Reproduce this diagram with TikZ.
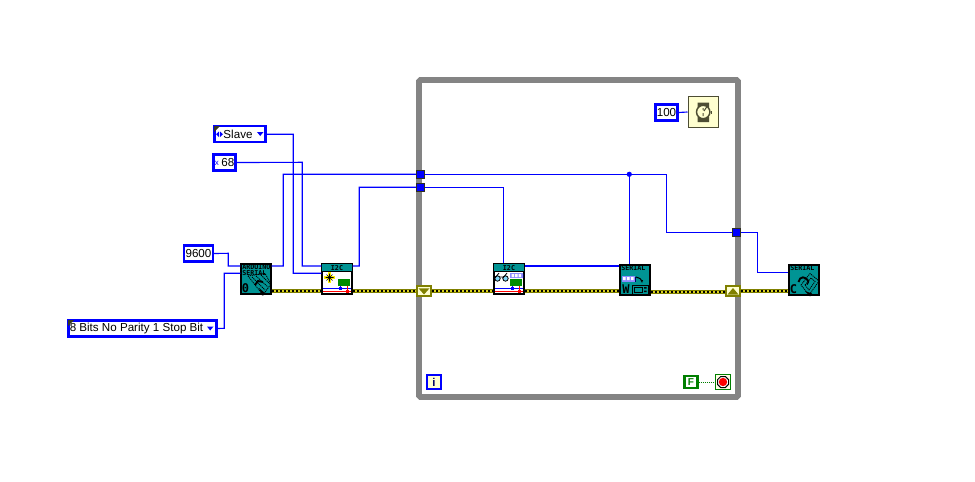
\documentclass[tikz,border=0pt]{standalone}
\usepackage{fontspec}
\setmainfont{Liberation Sans}
\newfontfamily\iconfont{DejaVu Sans Mono}
\usetikzlibrary{calc}
\definecolor{lvblue}{HTML}{0000FF}
\definecolor{lvgrey}{HTML}{848484}
\definecolor{lvteal}{HTML}{009494}
\definecolor{lvolive}{HTML}{808000}
\definecolor{lvyellow}{HTML}{FFFFD0}
\definecolor{lvgreen}{HTML}{007F00}
\definecolor{lvdark}{HTML}{4D4D33}
\tikzset{
  x=0.75pt,y=-0.75pt,
  numbox/.style={draw=lvblue,line width=1.7pt,fill=white,inner sep=0pt,font=\fontsize{8.7}{11}\selectfont,text=black},
  wire/.style={draw=lvblue,line width=0.85pt},
  bus/.style={draw=lvblue,line width=1.7pt},
  tunnel/.style={draw=lvdark!60!black,line width=0.75pt,fill=lvblue,minimum size=6pt,inner sep=0pt},
  icon/.style={draw=black,line width=1.1pt,inner sep=0pt,minimum size=22.5pt},
  srnode/.style={draw=lvolive,line width=1.7pt,fill=lvyellow,minimum width=10.2pt,minimum height=7pt,inner sep=0pt},
  ilabel/.style={inner sep=0pt,font=\iconfont\bfseries\fontsize{5}{5}\selectfont},
  ibig/.style={inner sep=0pt,font=\iconfont\bfseries\fontsize{9}{9}\selectfont},
}
\newcommand{\errwire}[2]{%
  \draw[lvolive,line width=3pt] (#1) -- (#2);
  \draw[yellow!85!black,line width=1.5pt] (#1) -- (#2);
  \draw[black,line width=1.5pt,dash pattern=on 1.5pt off 1.5pt] (#1) -- (#2);}
\begin{document}
\begin{tikzpicture}
\useasboundingbox (0,0) rectangle (975,482);
\fill[white] (0,0) rectangle (975,482);

% while loop frame
\draw[lvgrey,line width=4.2pt,rounded corners=1pt] (419,80) rectangle (738,397);

% constants and controls
\node[numbox,minimum width=38.2pt,minimum height=12pt] (slave) at (240,134.2) {\hspace*{2pt}Slave\hspace*{5pt}};
\fill[lvdark!70!black] (214,126) -- (220,126) -- (214,132) -- cycle;
\fill[lvblue] (216,134.2) -- (219,131.5) -- (219,137) -- cycle;
\fill[lvblue] (223,134.2) -- (220,131.5) -- (220,137) -- cycle;
\fill[lvblue] (257,132) -- (263.5,132) -- (260.2,136) -- cycle;

\node[numbox,minimum width=16.5pt,minimum height=12pt] (addr) at (224.5,162.5) {\hspace*{5pt}68};
\node[inner sep=0pt,text=lvblue,font=\fontsize{6}{6}\selectfont] (addrx) at (216.8,163) {x};

\node[numbox,minimum width=21.4pt,minimum height=12pt] (baud) at (198.5,253.5) {9600};

\node[numbox,minimum width=111pt,minimum height=12pt] (bits) at (142.5,328.5) {8 Bits No Parity 1 Stop Bit\hspace*{9pt}};
\fill[lvdark!70!black] (68,320) -- (74,320) -- (68,326) -- cycle;
\fill[lvblue] (207,326.5) -- (213.5,326.5) -- (210.2,330.5) -- cycle;

\node[numbox,minimum width=16.5pt,minimum height=12pt] (delay) at (666.5,112.5) {100};
\node[draw=lvdark,line width=.75pt,fill=lvyellow,minimum size=22.8pt,inner sep=0pt] (wait) at (703.2,112) {};
\fill[lvdark] (697.5,102.5) rectangle (709,107.5) (697.5,117) rectangle (709,122);
\draw[lvdark,line width=1.1pt,fill=lvyellow] (703.2,112) circle (6.7);
\fill[lvdark] (710.5,110.5) rectangle (712,113.5);
\draw[lvdark,line width=.75pt] (703.2,108) -- (703.2,110) (703.2,113)--(703.2,116) (707,106.5)--(704,111);

% function icons
\node[icon,fill=lvteal] (ard) at (256,279) {};
\node[icon,fill=white] (init) at (337,279) {};
\node[icon,fill=white] (read) at (509,279) {};
\node[icon,fill=lvteal] (wr) at (635,280) {};
\node[icon,fill=lvteal] (cl) at (804,280) {};

% shift registers and tunnels
\node[tunnel] (tun1) at (420.5,174.3) {};
\node[tunnel] (tun2) at (420.5,187.3) {};
\node[tunnel] (tun3) at (736.5,232.3) {};

% wires
\draw[wire] (slave.east) -- (293.3,134.3) -- (293.3,273.3) -- ($(init.north west)+(0,10)$);
\draw[wire] (addr.east) -- (302.3,162.3) -- (302.3,266) -- ($(init.north west)+(0,2.7)$);
\draw[wire] (baud.east) -- (228.3,253.3) -- (228.3,266) -- ($(ard.north west)+(0,2.7)$);
\draw[wire] (bits.east) -- (224.3,328.3) -- (224.3,273.3) -- ($(ard.north west)+(0,10)$);
\draw[wire] ($(ard.north east)+(0,2.7)$) -- (283.3,266) -- (283.3,174.3) -- (tun1.west);
\draw[wire] ($(init.north east)+(0,2.7)$) -- (359.3,266) -- (359.3,187.3) -- (tun2.west);
\draw[wire] (tun1.east) -- (666.7,174.3) -- (666.7,232.3) -- (tun3.west);
\draw[wire] (tun2.east) -- (503.3,187.3) -- (read.north -| 503.3,0);
\coordinate (jct) at (629.3,174.3);
\fill[lvblue] (jct) circle (2.6);
\draw[wire] (jct) -- (wr.north -| jct);
\draw[bus] ($(read.north east)+(0,2.4)$) -- ($(wr.north west)+(0,1.4)$);
\draw[wire] (tun3.east) -- (757.3,232.3) -- (757.3,272.3) -- (cl.west |- 0,272.3);
\draw[wire] (delay.east) -- (wait.west);

% error cluster wires
\coordinate (ardR) at (271.7,291.3);
\coordinate (initL) at (321.3,291.3);
\coordinate (initR) at (352.7,291.3);
\coordinate (srlL) at (416,291.3);
\coordinate (srlR) at (432,291.3);
\coordinate (readL) at (493.3,291.3);
\coordinate (readR) at (524.7,291.3);
\coordinate (wrL) at (619.3,291.3);
\coordinate (wrR) at (650.7,292.3);
\coordinate (srrL) at (725.3,292.3);
\coordinate (srrR) at (740.7,291);
\coordinate (clL) at (788.3,291);
\errwire{ardR}{initL}
\errwire{initR}{srlL}
\errwire{srlR}{readL}
\errwire{readR}{wrL}
\errwire{wrR}{srrL}
\errwire{srrR}{clL}

\node[srnode] (srl) at (424,291) {};
\fill[lvolive] (418.5,288.3) -- (429.5,288.3) -- (424,294.5) -- cycle;
\node[srnode] (srr) at (733,291) {};
\fill[lvolive] (727.5,294.5) -- (738.5,294.5) -- (733,288) -- cycle;

% Arduino serial open icon
\node[ilabel,anchor=north west] (ard1) at (242,264.5) {ARDUINO};
\node[ilabel,anchor=north west] (ard2) at (242,270) {SERIAL};
\node[ibig] (ard0) at (245.5,288.5) {0};
\draw[black,line width=.6pt,dash pattern=on .9pt off .6pt] (248,276) -- (265,273.5) -- (271,284) -- (263,295) -- cycle;
\draw[black,line width=.6pt,dash pattern=on .9pt off .6pt] (252,277) -- (265,290) (256,276) -- (268,287) (261,275) -- (270,284);
\draw[black,line width=1.4pt] (255,285) -- (258,281) -- (263,282);
\fill[black] (259,288) -- (265,293) -- (262,295.5) -- cycle;

% I2C open icon
\fill[lvteal] (321.8,263.8) rectangle (352.2,271);
\draw[black,line width=.75pt] (321.8,271.5) -- (352.2,271.5);
\node[ilabel] (lab1) at (337,267.6) {I2C};
\fill[yellow] (328,272) rectangle (330.5,283);
\fill[yellow] (324,276) rectangle (335,279);
\draw[black,line width=.5pt] (329.5,273.5) -- (329.5,281.5) (325.5,277.5) -- (333.5,277.5) (326.5,274.5) -- (332.5,280.5) (326.5,280.5) -- (332.5,274.5);
\fill[green!55!black] (338,278.5) rectangle (350,285.5);
\draw[lvblue,line width=.75pt] (323,288.5) -- (351,288.5);
\draw[red,line width=.75pt] (323,291.5) -- (351,291.5);
\draw[red,line width=.75pt] (347,285.5) -- (347,291.5);
\draw[lvblue,line width=.75pt] (340,285.5) -- (340,288.5);
\fill[lvblue] (338.5,287) rectangle (341.5,290);
\fill[red] (345.5,290) rectangle (348.5,293);

% I2C read icon
\fill[lvteal] (493.8,263.8) rectangle (524.2,271);
\draw[black,line width=.75pt] (493.8,271.5) -- (524.2,271.5);
\node[ilabel] (lab2) at (509,267.6) {I2C};
\foreach \c in {497.5,505.5}
  \draw[black,line width=.6pt,fill=cyan!50] (\c,278.5) circle (2.7);
\draw[black,line width=.6pt] (500,277) -- (503,277) (503,278) -- (507,273) (495,278)--(499,273);
\fill[blue!45] (510,273) rectangle (522.5,278);
\fill[black!70!blue] (522.5,274) rectangle (524,278);
\fill[white] (511.5,274) rectangle (514,277) (515,274) rectangle (517.5,277) (518.5,274) rectangle (521,277);
\fill[green!55!black] (510,279) rectangle (522,286);
\draw[lvblue,line width=.75pt] (495,288.5) -- (523,288.5);
\draw[red,line width=.75pt] (495,291.5) -- (523,291.5);
\draw[red,line width=.75pt] (519,286) -- (519,291.5);
\draw[lvblue,line width=.75pt] (512,286) -- (512,288.5);
\fill[lvblue] (510.5,287) rectangle (513.5,290);
\fill[red] (517.5,290) rectangle (520.5,293);

% serial write icon
\node[ilabel,anchor=north west] (wr1) at (621,265.5) {SERIAL};
\fill[blue!45] (621.5,276) rectangle (634.5,281.5);
\fill[white] (623,277.2) rectangle (625.5,280.2) (627,277.2) rectangle (629.5,280.2) (631,277.2) rectangle (633.5,280.2);
\fill[black!60!blue] (634.5,277) rectangle (635.5,281.5);
\draw[black,line width=.75pt] (636,277) -- (640,278.5) -- (642,281);
\fill[black] (640.5,280) -- (643,280) -- (642,283) -- cycle;
\node[ibig] (wrw) at (626,289.5) {W};
\draw[black,line width=.75pt] (632,285.5) rectangle (648.5,294);
\draw[black,line width=.6pt] (634.5,287.5) rectangle (642,292);
\fill[black] (644,287) rectangle (646.5,288.5) (644,290.5) rectangle (646.5,292);

% serial close icon
\node[ilabel,anchor=north west] (cl1) at (790,265.5) {SERIAL};
\node[ibig] (cl0) at (793.5,289.5) {C};
\draw[black,line width=.6pt,dash pattern=on .9pt off .6pt] (801,285) -- (810,273.5) -- (819,281) -- (809,295) -- cycle;
\draw[black,line width=.6pt,dash pattern=on .9pt off .6pt] (805,285) -- (811,278) -- (815,281.5) -- (809,290) -- cycle;
\draw[black,line width=1.4pt] (798.5,282) .. controls (799.5,276) and (806,275.5) .. (808.5,282);
\draw[black,line width=1pt] (808.5,282) -- (807,284.5);
\fill[black] (805,291) -- (810,296.5) -- (812,293.5) -- cycle;

% loop terminals
\node[draw=lvblue,line width=1.7pt,fill=lvyellow,minimum size=10.2pt,inner sep=0pt,text=black!60!blue,font=\bfseries\fontsize{8.5}{9}\selectfont] (iter) at (434,382) {i};
\node[draw=lvgreen,line width=1.7pt,fill=white,minimum width=9.8pt,minimum height=8.6pt,inner sep=0pt,text=lvgreen,font=\bfseries\fontsize{7.5}{8}\selectfont] (ftrue) at (691,382) {F};
\node[draw=lvgreen,line width=.75pt,fill=lvyellow!50,minimum size=11.3pt,inner sep=0pt] (stop) at (723,382) {};
\draw[black,line width=.75pt,fill=white] (717.5,379.7) -- (720.7,376.5) -- (725.3,376.5) -- (728.5,379.7) -- (728.5,384.3) -- (725.3,387.5) -- (720.7,387.5) -- (717.5,384.3) -- cycle;
\fill[red] (723,382) circle (4.2);
\draw[lvgreen,line width=.75pt,dash pattern=on .75pt off .75pt] (ftrue.east) -- (stop.west);
\end{tikzpicture}
\end{document}
